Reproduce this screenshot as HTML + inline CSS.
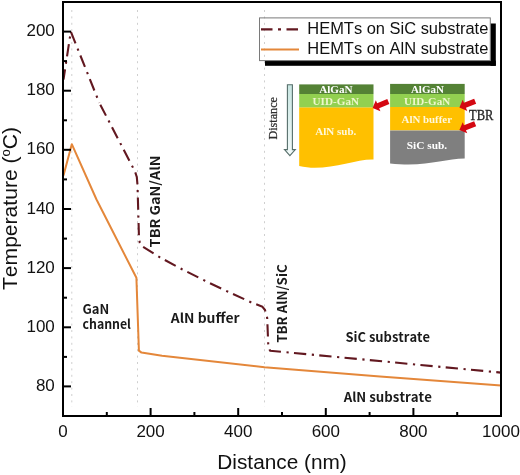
<!DOCTYPE html>
<html><head><meta charset="utf-8">
<style>
html,body{margin:0;padding:0;background:#fff;}
svg{display:block;}
text{font-kerning:none;}
.ax{font-family:"Liberation Sans",Arial,sans-serif;fill:#111;}
.an{font-family:"Noto Sans CJK KR","Liberation Sans",sans-serif;font-weight:700;fill:#1a1a1a;}
.sf{font-family:"Liberation Serif","Times New Roman",serif;}
</style></head>
<body>
<svg width="520" height="475" viewBox="0 0 520 475">
<rect x="0" y="0" width="520" height="475" fill="#fff"/>

<!-- inset diagram -->
<defs>
  <linearGradient id="ag" x1="0" y1="0" x2="0" y2="1">
    <stop offset="0" stop-color="#c9e6e2"/>
    <stop offset="1" stop-color="#f2faf9"/>
  </linearGradient>
</defs>
<g id="inset">
  <!-- left stack -->
  <rect x="299.2" y="84.4" width="74.3" height="9.6" fill="#548235"/>
  <rect x="299.2" y="94" width="74.3" height="13.6" fill="#92d050"/>
  <path d="M299.2 107.6 H373.5 V159.4 C354 158.8, 326 172.5, 299.2 166 Z" fill="#ffc000"/>
  <g class="sf" font-weight="700" font-size="11.3" text-anchor="middle" lengthAdjust="spacingAndGlyphs">
    <text x="335.9" y="92.8" fill="#fff" textLength="33.5" lengthAdjust="spacingAndGlyphs">AlGaN</text>
    <text x="335.8" y="105" fill="#eef6cc" textLength="46.5" lengthAdjust="spacingAndGlyphs">UID-GaN</text>
    <text x="335.8" y="135.2" fill="#fff8dc" textLength="41" lengthAdjust="spacingAndGlyphs">AlN sub.</text>
  </g>

  <!-- right stack -->
  <rect x="390.1" y="83.9" width="74.6" height="10.1" fill="#548235"/>
  <rect x="390.1" y="94" width="74.6" height="13" fill="#92d050"/>
  <rect x="390.1" y="107" width="74.6" height="23.4" fill="#ffc000"/>
  <path d="M390.1 130.4 H464.7 V158.5 C444 158.5, 426 167.5, 390.1 163.4 Z" fill="#7f7f7f"/>
  <g class="sf" font-weight="700" font-size="11.3" text-anchor="middle">
    <text x="427.4" y="92.9" fill="#fff" textLength="33" lengthAdjust="spacingAndGlyphs">AlGaN</text>
    <text x="427.1" y="104.5" fill="#eef6cc" textLength="46.2" lengthAdjust="spacingAndGlyphs">UID-GaN</text>
    <text x="426.8" y="122.9" fill="#fff8dc" textLength="50.5" lengthAdjust="spacingAndGlyphs">AlN buffer</text>
    <text x="427" y="148.9" fill="#fff" textLength="40.4" lengthAdjust="spacingAndGlyphs">SiC sub.</text>
  </g>

  <!-- distance arrow -->
  <path d="M287.4 84.7 H292.4 V149.6 H295.3 L289.9 155.7 L284.5 149.6 H287.4 Z" fill="url(#ag)" stroke="#566e6a" stroke-width="1.1"/>
  <text class="sf" transform="translate(277.2 118.3) rotate(-90)" font-size="13" fill="#2e2e2e" stroke="#2e2e2e" stroke-width="0.25" text-anchor="middle" textLength="42.5" lengthAdjust="spacingAndGlyphs">Distance</text>

  <!-- red arrows -->
  <g fill="#d40812">
    <path transform="translate(372.6 108) rotate(157.5)" d="M0 0 L-6 -6 L-6 -2.7 L-17 -2.7 L-17 2.7 L-6 2.7 L-6 6 Z"/>
    <path transform="translate(459.4 107.6) rotate(158)" d="M0 0 L-6 -6 L-6 -2.7 L-17 -2.7 L-17 2.7 L-6 2.7 L-6 6 Z"/>
    <path transform="translate(459.4 130) rotate(158)" d="M0 0 L-6 -6 L-6 -2.7 L-17 -2.7 L-17 2.7 L-6 2.7 L-6 6 Z"/>
  </g>
  <text class="sf" x="469" y="119.5" font-size="14" fill="#222" stroke="#222" stroke-width="0.3" textLength="24.4" lengthAdjust="spacingAndGlyphs">TBR</text>
</g>

<!-- gray dotted guide lines -->
<g stroke="#cfcfcf" stroke-width="1" stroke-dasharray="2 4.4">
  <line x1="71.8" y1="10" x2="71.8" y2="407"/>
  <line x1="137.5" y1="10" x2="137.5" y2="407"/>
  <line x1="264.5" y1="10" x2="264.5" y2="407"/>
</g>

<!-- data: AlN (orange) -->
<polyline fill="none" stroke="#e4873a" stroke-width="2" stroke-linejoin="round"
  points="63.5,175.5 71.8,144.2 96.5,199.5 136.4,277.8 138.9,350.6 141.5,352.6 162,355.8 264.5,367.2 380,376.6 501,385.4"/>

<!-- data: SiC (dash-dot) -->
<g fill="none" stroke="#621820" stroke-width="2.1" stroke-linejoin="round" stroke-dasharray="12.3 5.6 2.2 5.3">
<polyline stroke-dashoffset="2" points="63.5,79.5 70.8,31.6 99.3,102.8"/>
<polyline stroke-dashoffset="-2.16" points="99.3,102.8 135,171.5 136.8,177 137.5,185 139,238 139.8,242.8 141.2,245.6 160,257.4 182,269.2 205,280.8 228,291.7 251,302.3 262.5,306.8 265,310 267.2,318 268.3,346 270,350.7 337,357 501,372.6"/>
</g>

<!-- axes frame -->
<rect x="63" y="2" width="438" height="414" fill="none" stroke="#000" stroke-width="2"/>

<!-- y ticks -->
<g stroke="#000" stroke-width="2">
  <line x1="63" y1="31.6" x2="71" y2="31.6"/>
  <line x1="63" y1="90.7" x2="71" y2="90.7"/>
  <line x1="63" y1="149.8" x2="71" y2="149.8"/>
  <line x1="63" y1="209" x2="71" y2="209"/>
  <line x1="63" y1="268.1" x2="71" y2="268.1"/>
  <line x1="63" y1="327.3" x2="71" y2="327.3"/>
  <line x1="63" y1="386.4" x2="71" y2="386.4"/>
  <line x1="63" y1="61.1" x2="67" y2="61.1"/>
  <line x1="63" y1="120.3" x2="67" y2="120.3"/>
  <line x1="63" y1="179.4" x2="67" y2="179.4"/>
  <line x1="63" y1="238.6" x2="67" y2="238.6"/>
  <line x1="63" y1="297.7" x2="67" y2="297.7"/>
  <line x1="63" y1="356.9" x2="67" y2="356.9"/>
</g>
<!-- x ticks -->
<g stroke="#000" stroke-width="2">
  <line x1="150.6" y1="416" x2="150.6" y2="408"/>
  <line x1="238.2" y1="416" x2="238.2" y2="408"/>
  <line x1="325.8" y1="416" x2="325.8" y2="408"/>
  <line x1="413.4" y1="416" x2="413.4" y2="408"/>
  <line x1="106.8" y1="416" x2="106.8" y2="412"/>
  <line x1="194.4" y1="416" x2="194.4" y2="412"/>
  <line x1="282" y1="416" x2="282" y2="412"/>
  <line x1="369.6" y1="416" x2="369.6" y2="412"/>
  <line x1="457.2" y1="416" x2="457.2" y2="412"/>
</g>

<!-- y tick labels -->
<g class="ax" font-size="16.2" text-anchor="end" lengthAdjust="spacingAndGlyphs">
  <text x="54.8" y="36.1" textLength="28.35" lengthAdjust="spacingAndGlyphs">200</text>
  <text x="54.8" y="95.2" textLength="28.35" lengthAdjust="spacingAndGlyphs">180</text>
  <text x="54.8" y="154.3" textLength="28.35" lengthAdjust="spacingAndGlyphs">160</text>
  <text x="54.8" y="213.5" textLength="28.35" lengthAdjust="spacingAndGlyphs">140</text>
  <text x="54.8" y="272.6" textLength="28.35" lengthAdjust="spacingAndGlyphs">120</text>
  <text x="54.8" y="331.8" textLength="28.35" lengthAdjust="spacingAndGlyphs">100</text>
  <text x="54.8" y="390.9" textLength="18.90" lengthAdjust="spacingAndGlyphs">80</text>
</g>
<!-- x tick labels -->
<g class="ax" font-size="16.2" text-anchor="middle">
  <text x="63.0" y="437" textLength="9.45" lengthAdjust="spacingAndGlyphs">0</text>
  <text x="150.6" y="437" textLength="28.35" lengthAdjust="spacingAndGlyphs">200</text>
  <text x="238.2" y="437" textLength="28.35" lengthAdjust="spacingAndGlyphs">400</text>
  <text x="325.8" y="437" textLength="28.35" lengthAdjust="spacingAndGlyphs">600</text>
  <text x="413.4" y="437" textLength="28.35" lengthAdjust="spacingAndGlyphs">800</text>
  <text x="501.0" y="437" textLength="37.80" lengthAdjust="spacingAndGlyphs">1000</text>
</g>

<!-- axis titles -->
<text class="ax" x="217.3" y="469.3" font-size="20" textLength="129.5" lengthAdjust="spacingAndGlyphs">Distance (nm)</text>
<text class="ax" transform="translate(17.4 290) rotate(-90)" font-size="19.5" textLength="163" lengthAdjust="spacingAndGlyphs">Temperature (<tspan font-size="12" dy="-7">o</tspan><tspan dy="7">C)</tspan></text>

<!-- annotations -->
<g class="an" font-size="13">
  <text x="82.5" y="314.4">GaN</text>
  <text x="82.5" y="329.4" textLength="48.5" lengthAdjust="spacingAndGlyphs">channel</text>
  <text x="170.8" y="322.5" textLength="68.8" lengthAdjust="spacingAndGlyphs">AlN buffer</text>
  <text x="345.5" y="342.4" textLength="84.6" lengthAdjust="spacingAndGlyphs">SiC substrate</text>
  <text x="343.7" y="402.4" textLength="88.2" lengthAdjust="spacingAndGlyphs">AlN substrate</text>
  <text transform="translate(160.2 247.4) rotate(-90)" textLength="92" lengthAdjust="spacingAndGlyphs">TBR GaN/AlN</text>
  <text transform="translate(287.1 342.8) rotate(-90)" textLength="78.5" lengthAdjust="spacingAndGlyphs">TBR AlN/SiC</text>
</g>

<!-- legend -->
<g>
  <rect x="490.5" y="23.5" width="5.3" height="42.3" fill="#000"/>
  <rect x="265" y="60.6" width="230.8" height="5.2" fill="#000"/>
  <rect x="259.5" y="17.9" width="230.8" height="42.7" fill="none" stroke="#7a7a7a" stroke-width="1"/>
  <line x1="261" y1="29.4" x2="298.5" y2="29.4" stroke="#621820" stroke-width="2.2" stroke-dasharray="11.5 5.5 3 5.5"/>
  <line x1="261" y1="49.6" x2="299" y2="49.6" stroke="#e4873a" stroke-width="2"/>
  <text class="ax" x="307.3" y="34" font-size="16" textLength="181" lengthAdjust="spacingAndGlyphs">HEMTs on SiC substrate</text>
  <text class="ax" x="307.3" y="54.2" font-size="16" textLength="181" lengthAdjust="spacingAndGlyphs">HEMTs on AlN substrate</text>
</g>
</svg>
</body></html>
